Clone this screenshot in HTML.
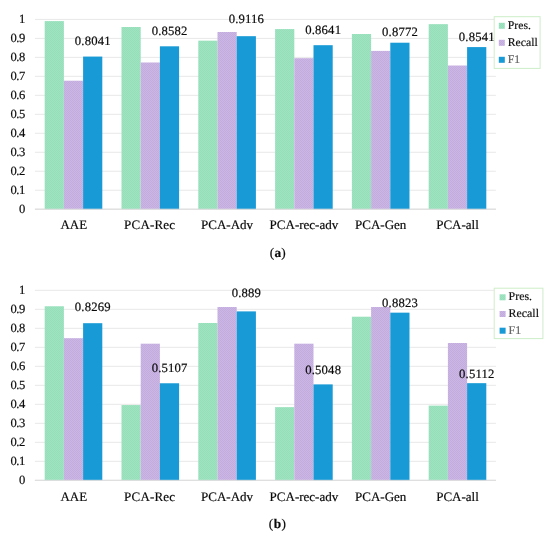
<!DOCTYPE html>
<html><head><meta charset="utf-8"><title>Figure</title>
<style>
html,body{margin:0;padding:0;background:#fff;}
body{width:550px;height:538px;overflow:hidden;}
svg{display:block;}
text{font-family:"Liberation Serif","Times New Roman",serif;fill:#0a0a0a;stroke:#0a0a0a;stroke-width:0.18px;text-rendering:geometricPrecision;}
.ax{font-size:13px;}
.dl{font-size:12.7px;letter-spacing:0.17px;}
.yl{font-size:12.6px;letter-spacing:-0.5px;}
.lg{font-size:11.7px;}
.cap{font-size:13.3px;}
</style></head><body>
<svg width="550" height="538" viewBox="0 0 550 538">
<defs>
<pattern id="pg" width="2" height="2" patternUnits="userSpaceOnUse"><rect width="2" height="2" fill="#9fe3c1"/><rect width="1" height="1" fill="#94dfba"/><rect x="1" y="1" width="1" height="1" fill="#94dfba"/></pattern>
<pattern id="pp" width="2" height="2" patternUnits="userSpaceOnUse"><rect width="2" height="2" fill="#ccb6e4"/><rect width="1" height="1" fill="#c2abde"/><rect x="1" y="1" width="1" height="1" fill="#c2abde"/></pattern>
</defs>
<rect width="550" height="538" fill="#fff"/>

<g>
<line x1="34.9" x2="495.9" y1="209.20" y2="209.20" stroke="#dedede" stroke-width="1"/>
<text class="yl" x="24.8" y="213.20" text-anchor="end">0</text>
<line x1="34.9" x2="495.9" y1="190.22" y2="190.22" stroke="#e8e8e8" stroke-width="1"/>
<text class="yl" x="24.8" y="194.22" text-anchor="end">0.1</text>
<line x1="34.9" x2="495.9" y1="171.24" y2="171.24" stroke="#e8e8e8" stroke-width="1"/>
<text class="yl" x="24.8" y="175.24" text-anchor="end">0.2</text>
<line x1="34.9" x2="495.9" y1="152.26" y2="152.26" stroke="#e8e8e8" stroke-width="1"/>
<text class="yl" x="24.8" y="156.26" text-anchor="end">0.3</text>
<line x1="34.9" x2="495.9" y1="133.28" y2="133.28" stroke="#e8e8e8" stroke-width="1"/>
<text class="yl" x="24.8" y="137.28" text-anchor="end">0.4</text>
<line x1="34.9" x2="495.9" y1="114.30" y2="114.30" stroke="#e8e8e8" stroke-width="1"/>
<text class="yl" x="24.8" y="118.30" text-anchor="end">0.5</text>
<line x1="34.9" x2="495.9" y1="95.32" y2="95.32" stroke="#e8e8e8" stroke-width="1"/>
<text class="yl" x="24.8" y="99.32" text-anchor="end">0.6</text>
<line x1="34.9" x2="495.9" y1="76.34" y2="76.34" stroke="#e8e8e8" stroke-width="1"/>
<text class="yl" x="24.8" y="80.34" text-anchor="end">0.7</text>
<line x1="34.9" x2="495.9" y1="57.36" y2="57.36" stroke="#e8e8e8" stroke-width="1"/>
<text class="yl" x="24.8" y="61.36" text-anchor="end">0.8</text>
<line x1="34.9" x2="495.9" y1="38.38" y2="38.38" stroke="#e8e8e8" stroke-width="1"/>
<text class="yl" x="24.8" y="42.38" text-anchor="end">0.9</text>
<line x1="34.9" x2="495.9" y1="19.40" y2="19.40" stroke="#e8e8e8" stroke-width="1"/>
<text class="yl" x="24.8" y="23.40" text-anchor="end">1</text>
<rect x="44.70" y="21.11" width="19.20" height="188.09" fill="url(#pg)"/>
<rect x="63.90" y="80.71" width="19.20" height="128.49" fill="url(#pp)"/>
<rect x="83.10" y="56.58" width="19.20" height="152.62" fill="#189ad6"/>
<rect x="121.50" y="26.99" width="19.20" height="182.21" fill="url(#pg)"/>
<rect x="140.70" y="62.48" width="19.20" height="146.72" fill="url(#pp)"/>
<rect x="159.90" y="46.31" width="19.20" height="162.89" fill="#189ad6"/>
<rect x="198.30" y="40.66" width="19.20" height="168.54" fill="url(#pg)"/>
<rect x="217.50" y="32.00" width="19.20" height="177.20" fill="url(#pp)"/>
<rect x="236.70" y="36.18" width="19.20" height="173.02" fill="#189ad6"/>
<rect x="275.10" y="29.08" width="19.20" height="180.12" fill="url(#pg)"/>
<rect x="294.30" y="58.20" width="19.20" height="151.00" fill="url(#pp)"/>
<rect x="313.50" y="45.19" width="19.20" height="164.01" fill="#189ad6"/>
<rect x="351.90" y="34.01" width="19.20" height="175.19" fill="url(#pg)"/>
<rect x="371.10" y="50.91" width="19.20" height="158.29" fill="url(#pp)"/>
<rect x="390.30" y="42.71" width="19.20" height="166.49" fill="#189ad6"/>
<rect x="428.70" y="24.15" width="19.20" height="185.05" fill="url(#pg)"/>
<rect x="447.90" y="65.52" width="19.20" height="143.68" fill="url(#pp)"/>
<rect x="467.10" y="47.09" width="19.20" height="162.11" fill="#189ad6"/>
<line x1="34.9" x2="495.9" y1="209.20" y2="209.20" stroke="#dedede" stroke-width="1"/>
<text class="dl" x="92.80" y="44.70" text-anchor="middle">0.8041</text>
<text class="dl" x="169.60" y="34.50" text-anchor="middle">0.8582</text>
<text class="dl" x="246.40" y="22.50" text-anchor="middle">0.9116</text>
<text class="dl" x="323.20" y="34.30" text-anchor="middle">0.8641</text>
<text class="dl" x="400.00" y="36.40" text-anchor="middle">0.8772</text>
<text class="dl" x="476.80" y="41.30" text-anchor="middle">0.8541</text>
<text class="ax" x="73.80" y="229.00" text-anchor="middle" letter-spacing="0">AAE</text>
<text class="ax" x="149.70" y="229.00" text-anchor="middle" letter-spacing="0.2">PCA-Rec</text>
<text class="ax" x="227.10" y="229.00" text-anchor="middle" letter-spacing="0">PCA-Adv</text>
<text class="ax" x="303.90" y="229.00" text-anchor="middle" letter-spacing="0">PCA-rec-adv</text>
<text class="ax" x="380.70" y="229.00" text-anchor="middle" letter-spacing="0">PCA-Gen</text>
<text class="ax" x="457.50" y="229.00" text-anchor="middle" letter-spacing="0">PCA-all</text>
<rect x="494.20" y="16.70" width="45.90" height="51.70" fill="#fff" stroke="#cdeec8" stroke-width="1"/>
<rect x="498.80" y="22.80" width="6" height="6" fill="url(#pg)"/>
<text class="lg" x="507.80" y="29.10" style="fill:#111;stroke:#111;font-size:11.7px">Pres.</text>
<rect x="498.80" y="39.80" width="6" height="6" fill="url(#pp)"/>
<text class="lg" x="507.80" y="46.10" style="fill:#111;stroke:#111;font-size:11.7px">Recall</text>
<rect x="498.80" y="56.80" width="6" height="6" fill="#189ad6"/>
<text class="lg" x="507.80" y="63.10" style="fill:#666;stroke:#666;font-size:11.7px">F1</text>
<text class="cap" x="277.75" y="256.90" text-anchor="middle" letter-spacing="0.1">(<tspan font-weight="bold">a</tspan>)</text>
</g>
<g>
<line x1="34.9" x2="495.9" y1="480.30" y2="480.30" stroke="#dedede" stroke-width="1"/>
<text class="yl" x="24.8" y="484.30" text-anchor="end">0</text>
<line x1="34.9" x2="495.9" y1="461.30" y2="461.30" stroke="#e8e8e8" stroke-width="1"/>
<text class="yl" x="24.8" y="465.30" text-anchor="end">0.1</text>
<line x1="34.9" x2="495.9" y1="442.30" y2="442.30" stroke="#e8e8e8" stroke-width="1"/>
<text class="yl" x="24.8" y="446.30" text-anchor="end">0.2</text>
<line x1="34.9" x2="495.9" y1="423.30" y2="423.30" stroke="#e8e8e8" stroke-width="1"/>
<text class="yl" x="24.8" y="427.30" text-anchor="end">0.3</text>
<line x1="34.9" x2="495.9" y1="404.30" y2="404.30" stroke="#e8e8e8" stroke-width="1"/>
<text class="yl" x="24.8" y="408.30" text-anchor="end">0.4</text>
<line x1="34.9" x2="495.9" y1="385.30" y2="385.30" stroke="#e8e8e8" stroke-width="1"/>
<text class="yl" x="24.8" y="389.30" text-anchor="end">0.5</text>
<line x1="34.9" x2="495.9" y1="366.30" y2="366.30" stroke="#e8e8e8" stroke-width="1"/>
<text class="yl" x="24.8" y="370.30" text-anchor="end">0.6</text>
<line x1="34.9" x2="495.9" y1="347.30" y2="347.30" stroke="#e8e8e8" stroke-width="1"/>
<text class="yl" x="24.8" y="351.30" text-anchor="end">0.7</text>
<line x1="34.9" x2="495.9" y1="328.30" y2="328.30" stroke="#e8e8e8" stroke-width="1"/>
<text class="yl" x="24.8" y="332.30" text-anchor="end">0.8</text>
<line x1="34.9" x2="495.9" y1="309.30" y2="309.30" stroke="#e8e8e8" stroke-width="1"/>
<text class="yl" x="24.8" y="313.30" text-anchor="end">0.9</text>
<line x1="34.9" x2="495.9" y1="290.30" y2="290.30" stroke="#e8e8e8" stroke-width="1"/>
<text class="yl" x="24.8" y="294.30" text-anchor="end">1</text>
<rect x="44.70" y="306.26" width="19.20" height="174.04" fill="url(#pg)"/>
<rect x="63.90" y="338.18" width="19.20" height="142.12" fill="url(#pp)"/>
<rect x="83.10" y="323.19" width="19.20" height="157.11" fill="#189ad6"/>
<rect x="121.50" y="405.06" width="19.20" height="75.24" fill="url(#pg)"/>
<rect x="140.70" y="343.69" width="19.20" height="136.61" fill="url(#pp)"/>
<rect x="159.90" y="383.27" width="19.20" height="97.03" fill="#189ad6"/>
<rect x="198.30" y="322.98" width="19.20" height="157.32" fill="url(#pg)"/>
<rect x="217.50" y="307.02" width="19.20" height="173.28" fill="url(#pp)"/>
<rect x="236.70" y="311.39" width="19.20" height="168.91" fill="#189ad6"/>
<rect x="275.10" y="407.15" width="19.20" height="73.15" fill="url(#pg)"/>
<rect x="294.30" y="343.69" width="19.20" height="136.61" fill="url(#pp)"/>
<rect x="313.50" y="384.39" width="19.20" height="95.91" fill="#189ad6"/>
<rect x="351.90" y="316.71" width="19.20" height="163.59" fill="url(#pg)"/>
<rect x="371.10" y="307.02" width="19.20" height="173.28" fill="url(#pp)"/>
<rect x="390.30" y="312.66" width="19.20" height="167.64" fill="#189ad6"/>
<rect x="428.70" y="405.63" width="19.20" height="74.67" fill="url(#pg)"/>
<rect x="447.90" y="343.01" width="19.20" height="137.29" fill="url(#pp)"/>
<rect x="467.10" y="383.17" width="19.20" height="97.13" fill="#189ad6"/>
<line x1="34.9" x2="495.9" y1="480.30" y2="480.30" stroke="#dedede" stroke-width="1"/>
<text class="dl" x="92.80" y="311.20" text-anchor="middle">0.8269</text>
<text class="dl" x="169.60" y="371.60" text-anchor="middle">0.5107</text>
<text class="dl" x="246.40" y="297.20" text-anchor="middle">0.889</text>
<text class="dl" x="323.20" y="374.00" text-anchor="middle">0.5048</text>
<text class="dl" x="400.00" y="306.80" text-anchor="middle">0.8823</text>
<text class="dl" x="476.80" y="377.80" text-anchor="middle">0.5112</text>
<text class="ax" x="73.80" y="501.00" text-anchor="middle" letter-spacing="0">AAE</text>
<text class="ax" x="149.70" y="501.00" text-anchor="middle" letter-spacing="0.2">PCA-Rec</text>
<text class="ax" x="227.10" y="501.00" text-anchor="middle" letter-spacing="0">PCA-Adv</text>
<text class="ax" x="303.90" y="501.00" text-anchor="middle" letter-spacing="0">PCA-rec-adv</text>
<text class="ax" x="380.70" y="501.00" text-anchor="middle" letter-spacing="0">PCA-Gen</text>
<text class="ax" x="457.50" y="501.00" text-anchor="middle" letter-spacing="0">PCA-all</text>
<rect x="494.20" y="288.20" width="48.70" height="50.40" fill="#fff" stroke="#cdeec8" stroke-width="1"/>
<rect x="499.60" y="294.30" width="6" height="6" fill="url(#pg)"/>
<text class="lg" x="508.60" y="300.40" style="fill:#111;stroke:#111;font-size:11.9px">Pres.</text>
<rect x="499.60" y="311.00" width="6" height="6" fill="url(#pp)"/>
<text class="lg" x="508.60" y="317.10" style="fill:#111;stroke:#111;font-size:11.9px">Recall</text>
<rect x="499.60" y="327.70" width="6" height="6" fill="#189ad6"/>
<text class="lg" x="508.60" y="333.80" style="fill:#666;stroke:#666;font-size:11.9px">F1</text>
<text class="cap" x="277.60" y="528.20" text-anchor="middle" letter-spacing="0.45">(<tspan font-weight="bold">b</tspan>)</text>
</g>
</svg>
</body></html>
